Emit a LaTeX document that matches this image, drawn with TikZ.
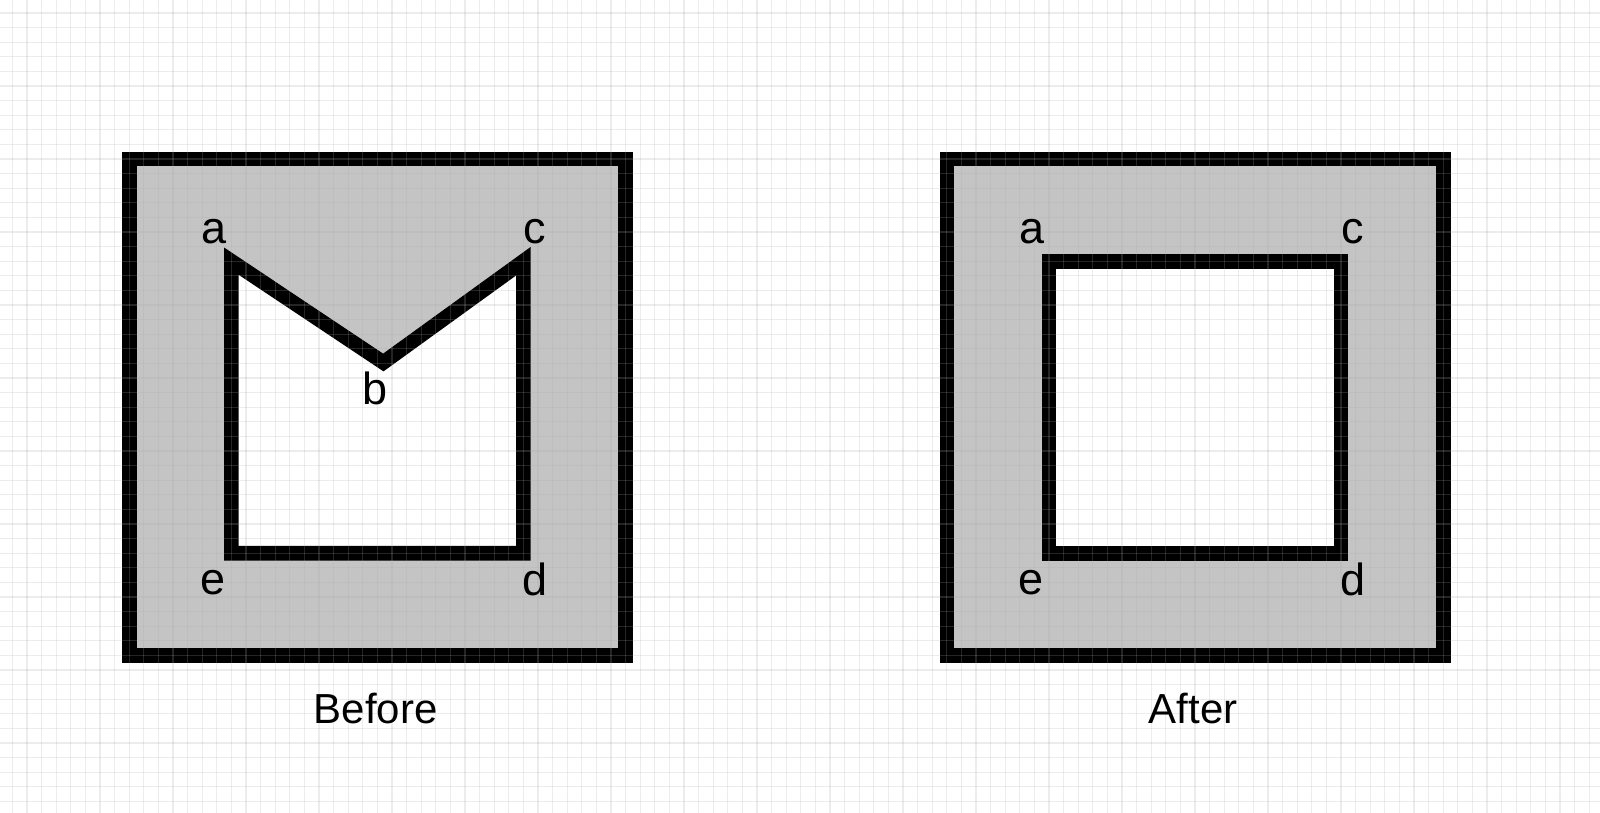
\documentclass[tikz,border=0pt]{standalone}
\usepackage{fontspec}
\setmainfont{Liberation Sans}
\begin{document}
\begin{tikzpicture}[x=1pt,y=-1pt,
  frame/.style={fill=fillgray,draw=black,line width=14.6pt,miter limit=10},
  hole/.style={fill=white,draw=black,line width=14.6pt,line join=miter,miter limit=10},
  gridline/.style={draw=gridc,line width=1.1pt,opacity=0.22},
  lbl/.style={inner sep=0pt,anchor=base,font=\fontsize{45}{54}\selectfont},
  ttl/.style={inner sep=0pt,anchor=base,font=\fontsize{42}{50}\selectfont}]
\definecolor{fillgray}{HTML}{C4C4C4}
\definecolor{gridc}{RGB}{170,170,170}
\useasboundingbox (0,0) rectangle (1600,813);
\fill[white] (0,0) rectangle (1600,813);
% --- Before ---
\coordinate (B1) at (129.2,159);
\coordinate (B2) at (625.6,655.4);
\draw[frame] (B1) rectangle (B2);
\coordinate (pa) at (231.4,261.2);
\coordinate (pb) at (383.3,362.5);
\coordinate (pc) at (523.4,261.2);
\coordinate (pd) at (523.4,553.2);
\coordinate (pe) at (231.4,553.2);
\draw[hole] (pa) -- (pb) -- (pc) -- (pd) -- (pe) -- cycle;
% --- After ---
\coordinate (A1) at (946.8,159);
\coordinate (A2) at (1443.2,655.4);
\draw[frame] (A1) rectangle (A2);
\coordinate (qa) at (1049,261.2);
\coordinate (qc) at (1341,261.2);
\coordinate (qd) at (1341,553.2);
\coordinate (qe) at (1049,553.2);
\draw[hole] (qa) -- (qc) -- (qd) -- (qe) -- cycle;
% --- grid overlay ---
\begin{scope}
\clip (0,0) rectangle (1600,813);
\foreach \i in {0,...,109}{
  \draw[gridline] ({12.4+14.6*\i},0) -- ({12.4+14.6*\i},813);
}
\foreach \j in {0,...,55}{
  \draw[gridline] (0,{13+14.6*\j}) -- (1600,{13+14.6*\j});
}
\end{scope}
% --- labels ---
\node[lbl] (la) at (213.7,243.3) {a};
\node[lbl] (lb) at (375,404.5) {b};
\node[lbl] (lc) at (535,243.5) {c};
\node[lbl] (ld) at (535.4,595.5) {d};
\node[lbl] (le) at (213,594.5) {e};
\node[lbl] (ma) at (1032,243.3) {a};
\node[lbl] (mc) at (1352.6,243.5) {c};
\node[lbl] (md) at (1353,595.5) {d};
\node[lbl] (me) at (1030.6,594.5) {e};
\node[ttl] (tb) at (375.8,723.3) {Before};
\node[ttl] (ta) at (1193,723.3) {After};
\end{tikzpicture}
\end{document}
